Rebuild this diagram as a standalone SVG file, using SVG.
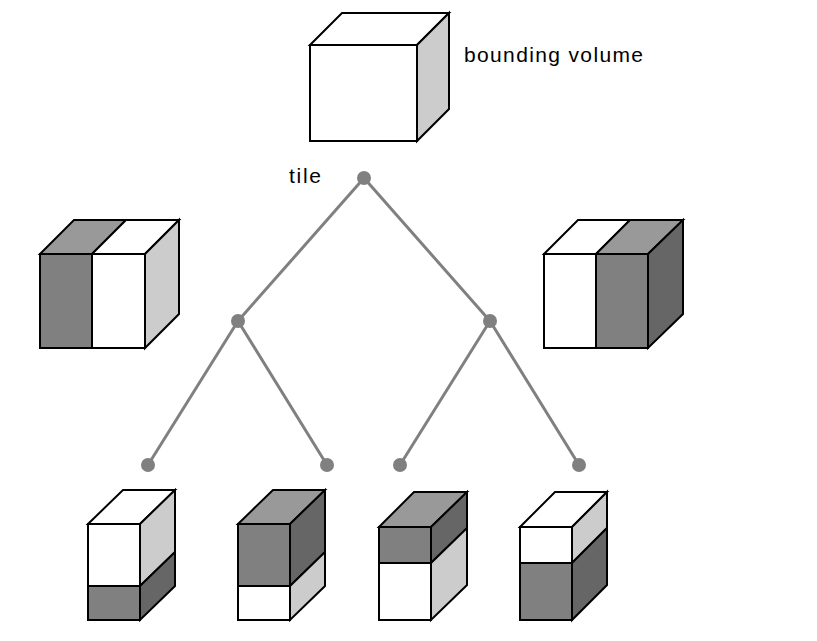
<svg xmlns="http://www.w3.org/2000/svg" width="817" height="641" viewBox="0 0 817 641">
<style>
.f{stroke:#000;stroke-width:2;stroke-linejoin:miter}
.w{fill:#fff}.l{fill:#cccccc}.m{fill:#999999}.d{fill:#808080}.k{fill:#666666}
.e{stroke:#808080;stroke-width:3;fill:none}
.n{fill:#808080}
text{font-family:"Liberation Sans",Arial,sans-serif;font-size:21px;fill:#000}
</style>
<rect width="817" height="641" fill="#fff"/>
<g id="bounding-volume">
<polygon class="f w" points="310,45 342,13 449,13 417,45"/>
<polygon class="f l" points="417,45 449,13 449,109 417,141"/>
<rect class="f w" x="310" y="45" width="107" height="96"/>
<text x="464" y="62" textLength="179" lengthAdjust="spacing">bounding volume</text>
</g>
<g id="left-volume">
<polygon class="f m" points="40,254 74,220 126,220 92,254"/>
<polygon class="f w" points="92,254 126,220 179,220 145,254"/>
<polygon class="f l" points="145,254 179,220 179,314 145,348"/>
<rect class="f d" x="40" y="254" width="52" height="94"/>
<rect class="f w" x="92" y="254" width="53" height="94"/>
</g>
<g id="right-volume">
<polygon class="f w" points="544,254 578,220 630,220 596,254"/>
<polygon class="f m" points="596,254 630,220 683,220 648,254"/>
<polygon class="f k" points="648,254 683,220 683,314 648,348"/>
<rect class="f w" x="544" y="254" width="52" height="94"/>
<rect class="f d" x="596" y="254" width="52" height="94"/>
</g>
<g id="leaf1">
<polygon class="f w" points="88,524 123,490 175,490 140,524"/>
<polygon class="f l" points="140,524 175,490 175,552 140,586"/>
<polygon class="f k" points="140,586 175,552 175,586 140,620"/>
<rect class="f w" x="88" y="524" width="52" height="62"/>
<rect class="f d" x="88" y="586" width="52" height="34"/>
</g>
<g id="leaf2">
<polygon class="f m" points="238,524 273,490 325,490 290,524"/>
<polygon class="f k" points="290,524 325,490 325,552 290,586"/>
<polygon class="f l" points="290,586 325,552 325,586 290,620"/>
<rect class="f d" x="238" y="524" width="52" height="62"/>
<rect class="f w" x="238" y="586" width="52" height="34"/>
</g>
<g id="leaf3">
<polygon class="f m" points="379,527 414,492 467,492 431,527"/>
<polygon class="f k" points="431,527 467,492 467,528 431,563"/>
<polygon class="f l" points="431,563 467,528 467,585 431,620"/>
<rect class="f d" x="379" y="527" width="52" height="36"/>
<rect class="f w" x="379" y="563" width="52" height="57"/>
</g>
<g id="leaf4">
<polygon class="f w" points="520,527 555,492 607,492 572,527"/>
<polygon class="f l" points="572,527 607,492 607,528 572,563"/>
<polygon class="f k" points="572,563 607,528 607,585 572,620"/>
<rect class="f w" x="520" y="527" width="52" height="36"/>
<rect class="f d" x="520" y="563" width="52" height="57"/>
</g>
<g id="connectors">
<path class="e" d="M364,178 L238,321 M364,178 L490,321 M238,321 L148,465 M238,321 L327,465 M490,321 L400,465 M490,321 L579,465"/>
</g>
<g id="tree-nodes">
<circle class="n" cx="364" cy="178" r="7"/>
<circle class="n" cx="238" cy="321" r="7"/>
<circle class="n" cx="490" cy="321" r="7"/>
<circle class="n" cx="148" cy="465" r="7"/>
<circle class="n" cx="327" cy="465" r="7"/>
<circle class="n" cx="400" cy="465" r="7"/>
<circle class="n" cx="579" cy="465" r="7"/>
<text x="289" y="183" textLength="32" lengthAdjust="spacing">tile</text>
</g>
</svg>
